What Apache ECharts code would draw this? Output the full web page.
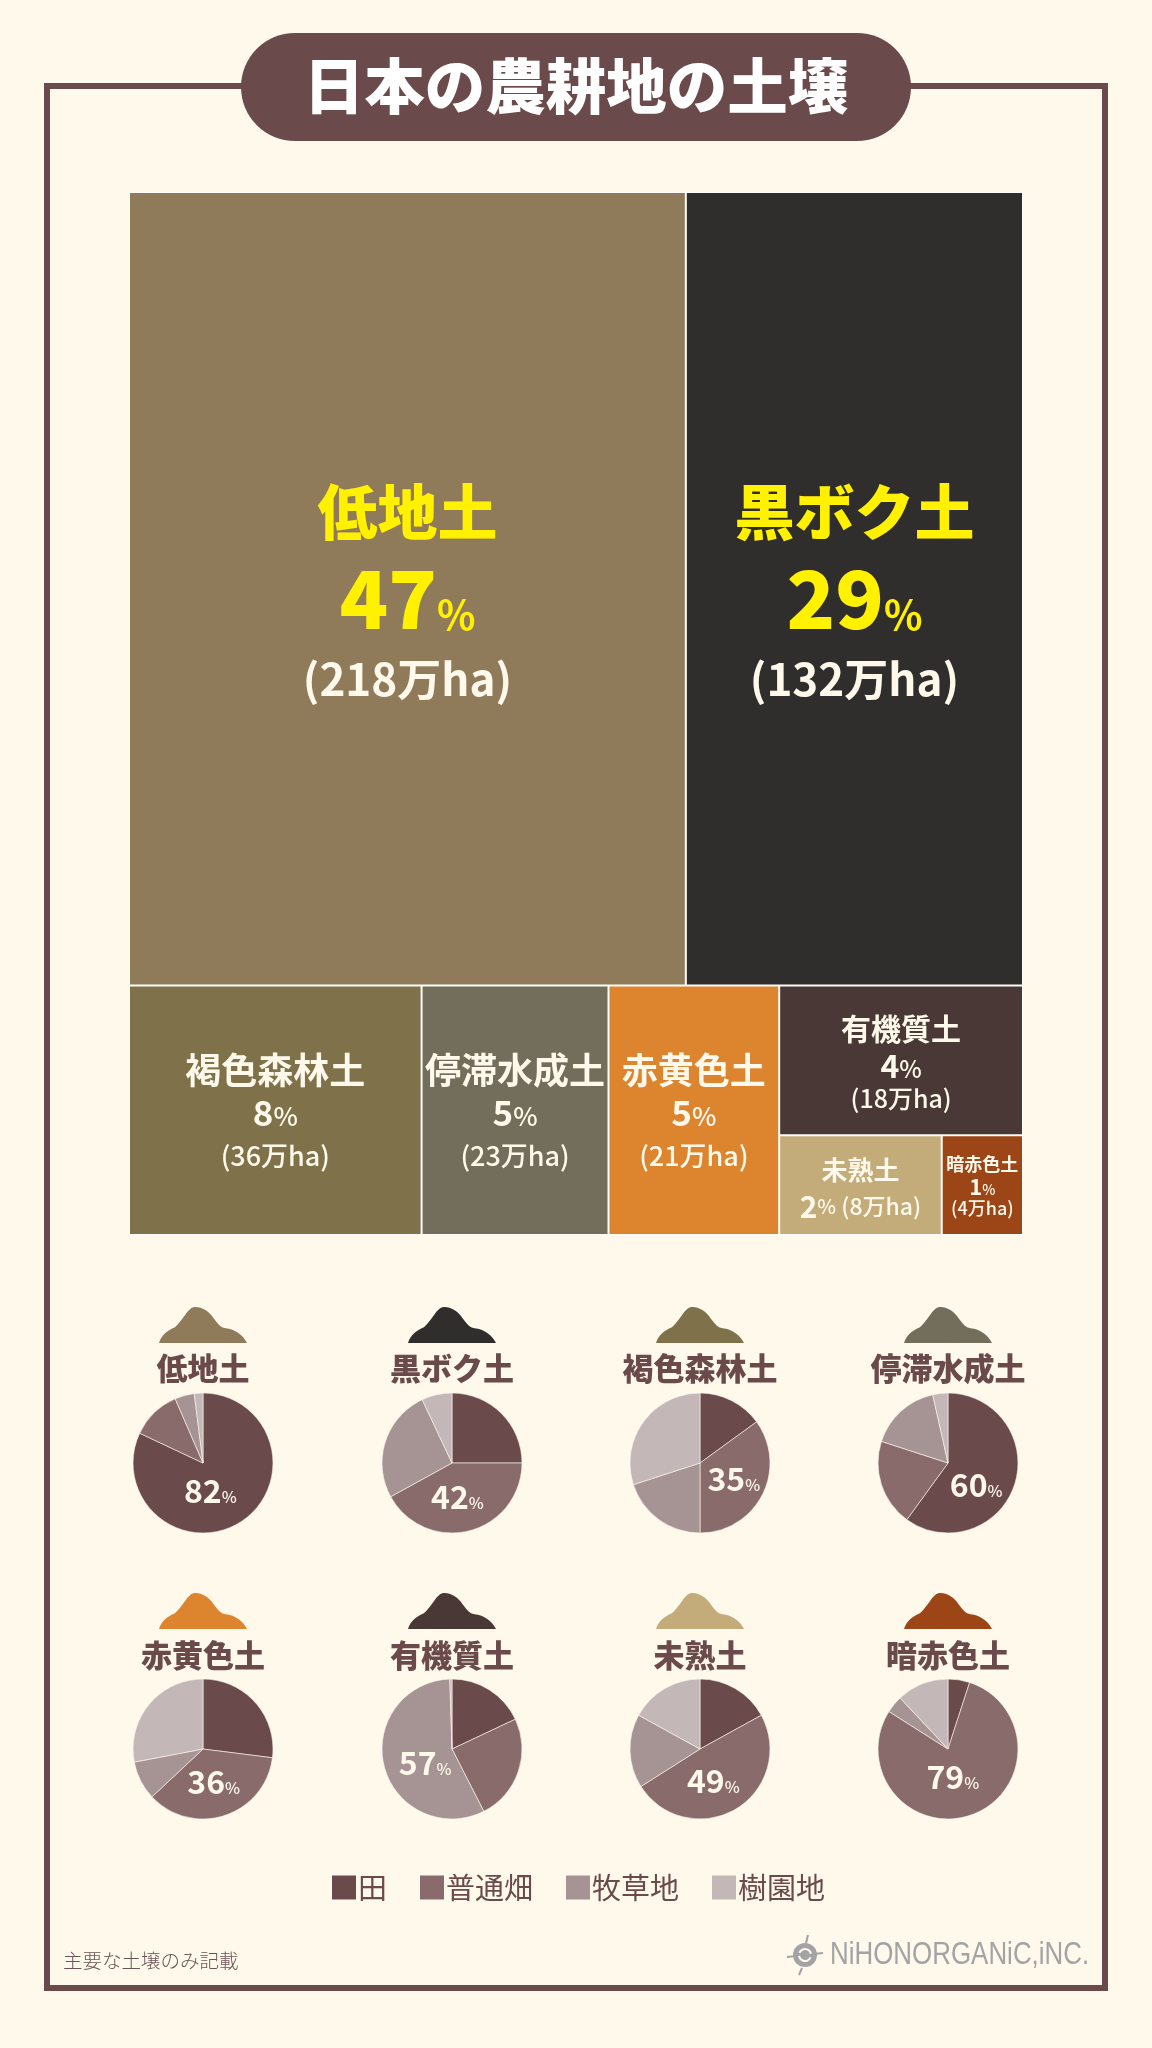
<!DOCTYPE html>
<html><head><meta charset="utf-8">
<style>html,body{margin:0;padding:0;background:#fff9ec}#c{width:1152px;height:2048px}</style>
<script src="https://cdn.jsdelivr.net/npm/echarts@6/dist/echarts.min.js"></script>
</head><body><div id="c"></div>
<script>
const FONT = '"Noto Sans CJK JP","Noto Sans",sans-serif';
const INK = '#6b4a4c';
const CREAM = '#fff9ec';
const YELLOW = '#fff100';
const LOGO = '#a3a3a6';
const SEAM = 'rgba(255,249,236,0.3)';

const titleText = '日本の農耕地の土壌';
const noteText = '主要な土壌のみ記載';
const logoText = 'NiHONORGANiC,iNC.';

// Soil groups, in the order they appear in the treemap and the pie grid
const soilNames  = ['低地土','黒ボク土','褐色森林土','停滞水成土','赤黄色土','有機質土','未熟土','暗赤色土'];
const soilShares = [47,29,8,5,5,4,2,1];
const soilAreas  = [218,132,36,23,21,18,8,4];
const soilColors = ['#8f7b5a','#302d2d','#7f724a','#736e5b','#dd842f','#4a3836','#c3ac7a','#9c4516'];

// Land use split per soil group (percent)
const landUses   = ['田','普通畑','牧草地','樹園地'];
const landColors = ['#6b4a4c','#896b6c','#a69394','#c3b7b7'];
const paddy   = [82,25,15,60,27,18,17,5];
const upland  = [11.5,42,35,20,36,24.5,49,79];
const pasture = [4.5,26,20,16.5,9,57,17,4];
const orchard = [2,7,30,3.5,28,0.5,17,12];

// Which land use carries the printed percentage on each pie
const labelledUse = [0,1,1,0,1,2,1,1];
// Small shifts of that percentage away from the slice centre
const labelShift = [[-13,-8],[-4,-7],[0,-5],[-8,6],[-1,-7],[10,0],[-6,-5],[-8,-12]];

// Treemap label rows: [font size, weight, line height] for each size class
const rows = {
  hero:  {name:[60,900,74],pct:[80,900,90],unit:[40,700],area:[44,700,80]},
  large: {name:[36,700,41],pct:[35,700,40],unit:[26,500],area:[27,500,50]},
  mid:   {name:[30,700,40],pct:[32,700,33],unit:[24,500],area:[25,500,33]},
  tiny:  {name:[18,700,24],pct:[22,700,21],unit:[14,500],area:[18,500,21]}
};
// Downward shift of the label block inside its treemap cell
const labelDrop = {hero:277, large:58, mid:17, tiny:11, young:11};

function richFor(r, accent) {
  const base = (f, c) => ({fontFamily:FONT,fontSize:f[0],fontWeight:f[1],lineHeight:f[2],color:c,align:'center'});
  return {
    n: base(r.name, accent),
    p: Object.assign(base(r.pct, accent), {verticalAlign:'bottom'}),
    u: {fontFamily:FONT,fontSize:r.unit[0],fontWeight:r.unit[1],color:accent,lineHeight:r.pct[2],verticalAlign:'bottom',padding:[0,0,Math.round((r.pct[0]-r.unit[0])*0.1),0]},
    a: base(r.area, CREAM)
  };
}

const seam = c => ({color:c,borderColor:SEAM,borderWidth:1});

function leaf(i, size, accent) {
  const text = '{n|' + soilNames[i] + '}\n{p|' + soilShares[i] + '}{u|%}\n{a|(' + soilAreas[i] + '万ha)}';
  return {
    name: soilNames[i],
    value: soilAreas[i],
    itemStyle: seam(soilColors[i]),
    label: {
      show: true, position: 'inside', align:'center', verticalAlign:'middle', overflow: 'none',
      offset: [0, labelDrop[size]],
      formatter: text,
      rich: richFor(rows[size], accent || CREAM)
    }
  };
}

// 未熟土 keeps its figures on one line, so it gets its own label
const youngSoil = {
  name: soilNames[6], value: soilAreas[6], itemStyle: seam(soilColors[6]),
  label: {
    show:true, position:'inside', align:'center', verticalAlign:'middle', overflow:'none',
    offset:[0, labelDrop.young],
    formatter: '{n|' + soilNames[6] + '}\n{p|' + soilShares[6] + '}{u|%}{a| (' + soilAreas[6] + '万ha)}',
    rich: {
      n:{fontFamily:FONT,fontSize:26,fontWeight:700,lineHeight:36,color:CREAM},
      p:{fontFamily:FONT,fontSize:30,fontWeight:700,lineHeight:36,color:CREAM},
      u:{fontFamily:FONT,fontSize:20,fontWeight:500,lineHeight:36,color:CREAM},
      a:{fontFamily:FONT,fontSize:23,fontWeight:500,lineHeight:36,color:CREAM}
    }
  }
};

// Nesting fixes the block partition: two large blocks above, the rest below
const treeData = [
  {name:'major', children:[leaf(0,'hero',YELLOW), leaf(1,'hero',YELLOW)]},
  {name:'minor', children:[
    leaf(2,'large'), leaf(3,'large'), leaf(4,'large'),
    {name:'small', children:[
      leaf(5,'mid'),
      {name:'smallest', children:[youngSoil, leaf(7,'tiny')]}
    ]}
  ]}
];

const pieCols = [203,452,700,948];
const pieRows = [1463,1749];
const headY   = [1368,1655];
const moundY  = [1307,1593];
const MOUND = 'M0,110 C8,85 25,72 48,62 C60,50 68,38 78,25 C90,8 98,0 110,0 C130,0 150,12 165,35 C178,52 185,62 200,65 C230,68 252,85 265,110 Z';

const pies = soilNames.map((s, i) => {
  const vals = [paddy[i], upland[i], pasture[i], orchard[i]];
  return {
    type:'pie', name:s, radius:[0,70],
    center:[pieCols[i%4], pieRows[i>>2]],
    startAngle:90, clockwise:true, animation:false, silent:true,
    color:landColors,
    itemStyle:{borderColor:'rgba(255,249,236,0.6)',borderWidth:1},
    labelLine:{show:false},
    label:{show:false},
    data: vals.map((v,k) => ({
      name: landUses[k], value: v,
      label: k === labelledUse[i] ? {
        show:true, position:'inside', offset:labelShift[i],
        formatter:'{p|' + Math.round(v) + '}{u|%}',
        rich:{
          p:{fontFamily:FONT,fontSize:32,fontWeight:700,color:CREAM,lineHeight:40,verticalAlign:'bottom'},
          u:{fontFamily:FONT,fontSize:16,fontWeight:500,color:CREAM,lineHeight:40,verticalAlign:'bottom',padding:[0,0,2,0]}
        }
      } : {show:false}
    }))
  };
});

const heads = soilNames.map((s,i) => ({
  text:s, left:pieCols[i%4], top:headY[i>>2], textAlign:'center', textVerticalAlign:'middle', padding:0,
  textStyle:{fontFamily:FONT,fontSize:31,fontWeight:900,color:INK}
}));

// Soil mound above each pie, tinted with the soil's colour
const moundSeries = {
  type:'custom', coordinateSystem:'none', silent:true, animation:false,
  data: soilNames.map((s,i) => [i]),
  renderItem: (params, api) => {
    const i = api.value(0);
    return {
      type:'path',
      shape:{pathData:MOUND,x:pieCols[i%4]-44,y:moundY[i>>2],width:88,height:36,layout:'cover'},
      style:{fill:soilColors[i]}
    };
  }
};

const chart = echarts.init(document.getElementById('c'), null, {renderer:'canvas'});
chart.setOption({
  backgroundColor: CREAM,
  animation:false,
  title: heads,
  legend:{
    left:327, top:1868, itemWidth:24, itemHeight:24, itemGap:33, icon:'rect',
    selectedMode:false, data:landUses,
    itemStyle:{borderWidth:0},
    textStyle:{fontFamily:FONT,fontSize:29,fontWeight:400,color:INK,padding:[0,0,0,-3]}
  },
  graphic: {elements:[
    // outer frame, then the title plate sitting on its top edge
    {type:'rect',silent:true,z:1,shape:{x:47,y:86,width:1058,height:1902},style:{fill:'none',stroke:INK,lineWidth:6}},
    {type:'rect',silent:true,z:2,shape:{x:241,y:33,width:670,height:108,r:54},style:{fill:INK}},
    {type:'text',silent:true,z:3,x:576,y:86,style:{text:titleText,font:'900 60.5px '+FONT,fill:'#ffffff',align:'center',verticalAlign:'middle'}},
    {type:'text',silent:true,z:3,x:63,y:1961,style:{text:noteText,font:'300 19.5px '+FONT,fill:'#6b5455',align:'left',verticalAlign:'middle'}},
    // company mark: disc, spikes and inner swirl
    {type:'line',silent:true,z:3,shape:{x1:808,y1:1935,x2:806,y2:1943},style:{stroke:LOGO,lineWidth:2}},
    {type:'line',silent:true,z:3,shape:{x1:799,y1:1975,x2:802,y2:1968},style:{stroke:LOGO,lineWidth:2}},
    {type:'line',silent:true,z:3,shape:{x1:787,y1:1957,x2:823,y2:1953},style:{stroke:LOGO,lineWidth:2}},
    {type:'circle',silent:true,z:3,shape:{cx:805,cy:1955,r:12},style:{fill:LOGO}},
    {type:'arc',silent:true,z:4,shape:{cx:805,cy:1955,r:6,startAngle:0.4,endAngle:3,clockwise:true},style:{fill:'none',stroke:CREAM,lineWidth:2}},
    {type:'arc',silent:true,z:4,shape:{cx:805,cy:1955,r:6,startAngle:3.5,endAngle:6.1,clockwise:true},style:{fill:'none',stroke:CREAM,lineWidth:2}},
    {type:'text',silent:true,z:3,x:830,y:1955,scaleX:0.81,style:{text:logoText,font:'400 32px "Liberation Sans"',fill:LOGO,align:'left',verticalAlign:'middle'}}
  ]},
  series:[{
    type:'treemap', left:129, top:192, width:894, height:1043,
    roam:false, nodeClick:false, silent:true, sort:false, animation:false,
    squareRatio:1,
    breadcrumb:{show:false},
    visibleMin:0, childrenVisibleMin:0,
    itemStyle:{gapWidth:0,borderWidth:0},
    upperLabel:{show:false},
    levels:[
      {itemStyle:{gapWidth:0,borderWidth:0}},
      {itemStyle:{gapWidth:0,borderWidth:0}},
      {itemStyle:{gapWidth:0,borderWidth:0}},
      {itemStyle:{gapWidth:0,borderWidth:0}},
      {itemStyle:{gapWidth:0,borderWidth:0}}
    ],
    data:treeData
  }].concat(pies, [moundSeries])
});
</script></body></html>
